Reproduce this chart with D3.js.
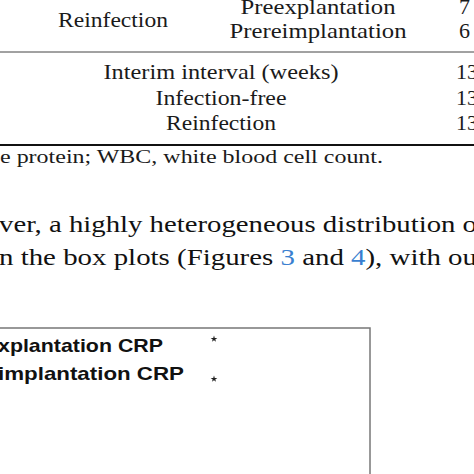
<!DOCTYPE html>
<html lang="en">
  <head>
    <meta charset="utf-8" />
    <style>
      body { margin: 0; background: #fff; }
      svg { display: block; }
    </style>
  </head>
  <body>
    <svg id="page" width="474" height="474"></svg>
    <script src="https://d3js.org/d3.v7.min.js"></script>
    <script>
      // table rows: [text, center x, baseline y, width]
      const upperRows = ["Preexplantation", "Prereimplantation"];
      const upperValues = ["7", "6"];
      const groupLabel = "Reinfection";
      const lowerRows = ["Interim interval (weeks)", "Infection-free", "Reinfection"];
      const lowerValues = ["13", "13", "13"];
      const footnote = "e protein; WBC, white blood cell count.";
      const bodyLines = [
        [["ver, a highly heterogeneous distribution o", "#111"]],
        [["n the box plots (Figures ", "#111"], ["3", "#3a7fd0"], [" and ", "#111"], ["4", "#3a7fd0"], ["), with ou", "#111"]]
      ];
      const legendLabels = ["xplantation CRP", "implantation CRP"];

      const svg = d3.select("#page");
      const serif = "'Liberation Serif', 'DejaVu Serif', serif";
      const ink = "#1a1a1a";

      const upperY = d3.scalePoint().domain(upperRows).range([14, 38]);
      const lowerY = d3.scalePoint().domain(lowerRows).range([79, 130]);
      const upperW = [155, 177];
      const lowerW = [235, 131, 110];

      const txt = (x, y, s, size, anchor, len) => {
        const t = svg.append("text")
          .attr("x", x).attr("y", y)
          .attr("font-family", serif).attr("font-size", size)
          .attr("fill", ink).attr("text-anchor", anchor || "start")
          .text(s);
        if (len) t.attr("textLength", len).attr("lengthAdjust", "spacingAndGlyphs");
        return t;
      };

      upperRows.forEach((r, i) => {
        txt(318, upperY(r), r, 22, "middle", upperW[i]);
        txt(459, upperY(r), upperValues[i], 22, "start");
      });
      txt(113, 27, groupLabel, 22, "middle", 110);

      svg.append("line").attr("x1", 0).attr("x2", 474).attr("y1", 52).attr("y2", 52)
        .attr("stroke", "#444").attr("stroke-width", 1);

      lowerRows.forEach((r, i) => {
        txt(221, lowerY(r), r, 22, "middle", lowerW[i]);
        txt(456, lowerY(r), lowerValues[i], 22, "start");
      });

      svg.append("line").attr("x1", 0).attr("x2", 474).attr("y1", 145).attr("y2", 145)
        .attr("stroke", "#111").attr("stroke-width", 2);

      txt(0, 163, footnote, 19, "start", 383);

      const bodyY = d3.scalePoint().domain([0, 1]).range([232, 265]);
      bodyLines.forEach((parts, i) => {
        const t = txt(-1, bodyY(i), "", 23, "start").attr("textLength", 478)
          .attr("lengthAdjust", "spacingAndGlyphs");
        parts.forEach(p => t.append("tspan").attr("fill", p[1]).text(p[0]));
      });

      // legend box of the figure below
      svg.append("rect").attr("x", -10).attr("y", 328).attr("width", 380).attr("height", 160)
        .attr("fill", "none").attr("stroke", "#777").attr("stroke-width", 1.5);

      const legY = d3.scalePoint().domain(legendLabels).range([112 + 240, 140 + 240]);
      const legW = [165, 186];
      legendLabels.forEach((l, i) => {
        svg.append("text").attr("x", -2).attr("y", legY(l))
          .attr("font-family", "'Liberation Sans', Arial, sans-serif")
          .attr("font-weight", "bold").attr("font-size", 19).attr("fill", "#111")
          .attr("textLength", legW[i]).attr("lengthAdjust", "spacingAndGlyphs")
          .text(l);
      });
      const stars = [339, 379];
      stars.forEach(y => {
        svg.append("path")
          .attr("d", d3.symbol(d3.symbolStar, 14)())
          .attr("transform", `translate(214,${y})`).attr("fill", "#222");
      });
    </script>
  </body>
</html>
